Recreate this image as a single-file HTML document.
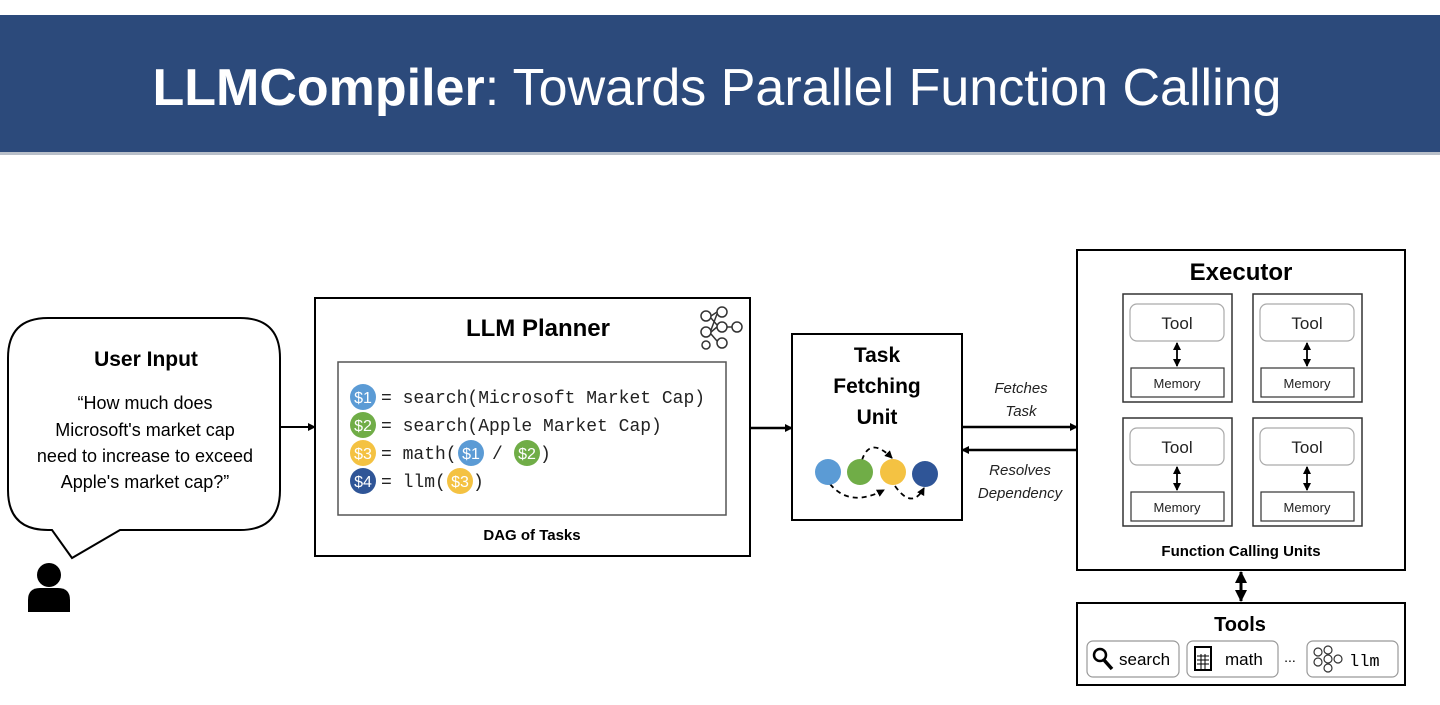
<!DOCTYPE html>
<html><head><meta charset="utf-8"><style>
html,body{margin:0;padding:0;background:#fff;}
svg{display:block}
.s{font-family:"Liberation Sans",sans-serif}
.m{font-family:"Liberation Mono","DejaVu Sans Mono",monospace}
</style></head><body>
<svg width="1440" height="705" viewBox="0 0 1440 705" xmlns="http://www.w3.org/2000/svg">
<defs>
<marker id="a" markerWidth="8" markerHeight="8" refX="7" refY="4" orient="auto" markerUnits="userSpaceOnUse"><path d="M0,0 L8,4 L0,8 z" fill="#000"/></marker>
<marker id="b" markerWidth="8" markerHeight="8" refX="7" refY="4" orient="auto-start-reverse" markerUnits="userSpaceOnUse"><path d="M0,0 L8,4 L0,8 z" fill="#000"/></marker>
<marker id="d" markerWidth="12" markerHeight="12" refX="11" refY="6" orient="auto-start-reverse" markerUnits="userSpaceOnUse"><path d="M0,0 L12,6 L0,12 z" fill="#000"/></marker>
</defs>
<rect x="0" y="15" width="1440" height="138" fill="#2c4a7b"/>
<rect x="0" y="152" width="1440" height="3" fill="#b8bfc9"/>
<text x="717" y="105" text-anchor="middle" class="s" font-size="52" fill="#fff"><tspan font-weight="bold">LLMCompiler</tspan>: Towards Parallel Function Calling</text>

<!-- bubble -->
<path d="M48,318 H240 Q280,318 280,358 V490 Q280,530 240,530 H120 L72,558 L52,530 H48 Q8,530 8,490 V358 Q8,318 48,318 Z" fill="#fff" stroke="#000" stroke-width="2"/>
<text x="146" y="366" text-anchor="middle" class="s" font-size="21" font-weight="bold">User Input</text>
<g class="s" font-size="18" text-anchor="middle">
<text x="145" y="409">“How much does</text>
<text x="145" y="436">Microsoft's market cap</text>
<text x="145" y="462">need to increase to exceed</text>
<text x="145" y="488">Apple's market cap?”</text>
</g>
<circle cx="49" cy="575" r="12"/>
<path d="M28,612 V600 Q28,588 40,588 H58 Q70,588 70,600 V612 Z"/>

<line x1="280" y1="427" x2="315" y2="427" stroke="#000" stroke-width="2" marker-end="url(#a)"/>

<!-- planner -->
<rect x="315" y="298" width="435" height="258" fill="#fff" stroke="#000" stroke-width="2"/>
<text x="538" y="336" text-anchor="middle" class="s" font-size="24" font-weight="bold">LLM Planner</text>
<g fill="none" stroke="#333" stroke-width="1.5">
<circle cx="706" cy="316" r="5"/><circle cx="722" cy="312" r="5"/><circle cx="706" cy="332" r="5"/><circle cx="722" cy="327" r="5"/><circle cx="737" cy="327" r="5"/><circle cx="722" cy="343" r="5"/><circle cx="706" cy="345" r="4"/>
<path d="M711,316 L717,312 M711,332 L717,327 M727,327 L732,327 M711,318 L717,325 M711,330 L717,314 M711,334 L717,341"/>
</g>
<rect x="338" y="362" width="388" height="153" fill="#fff" stroke="#555" stroke-width="1.5"/>
<g class="m" font-size="18" fill="#222">
<circle cx="363" cy="397" r="13" fill="#5b9bd5"/><text x="363" y="403" text-anchor="middle" fill="#fff" class="s" font-size="16">$1</text>
<text x="381" y="403">= search(Microsoft Market Cap)</text>
<circle cx="363" cy="425" r="13" fill="#70ad47"/><text x="363" y="431" text-anchor="middle" fill="#fff" class="s" font-size="16">$2</text>
<text x="381" y="431">= search(Apple Market Cap)</text>
<circle cx="363" cy="453" r="13" fill="#f4c242"/><text x="363" y="459" text-anchor="middle" fill="#fff" class="s" font-size="16">$3</text>
<text x="381" y="459">= math(</text>
<circle cx="471" cy="453" r="13" fill="#5b9bd5"/><text x="471" y="459" text-anchor="middle" fill="#fff" class="s" font-size="16">$1</text>
<text x="492" y="459">/</text>
<circle cx="527" cy="453" r="13" fill="#70ad47"/><text x="527" y="459" text-anchor="middle" fill="#fff" class="s" font-size="16">$2</text>
<text x="540" y="459">)</text>
<circle cx="363" cy="481" r="13" fill="#2f5597"/><text x="363" y="487" text-anchor="middle" fill="#fff" class="s" font-size="16">$4</text>
<text x="381" y="487">= llm(</text>
<circle cx="460" cy="481" r="13" fill="#f4c242"/><text x="460" y="487" text-anchor="middle" fill="#fff" class="s" font-size="16">$3</text>
<text x="473" y="487">)</text>
</g>
<text x="532" y="540" text-anchor="middle" class="s" font-size="15" font-weight="bold">DAG of Tasks</text>

<line x1="750" y1="428" x2="792" y2="428" stroke="#000" stroke-width="2.5" marker-end="url(#a)"/>

<!-- task fetching -->
<rect x="792" y="334" width="170" height="186" fill="#fff" stroke="#000" stroke-width="2"/>
<g class="s" font-size="21" font-weight="bold" text-anchor="middle">
<text x="877" y="362">Task</text><text x="877" y="393">Fetching</text><text x="877" y="424">Unit</text>
</g>
<g fill="none" stroke="#000" stroke-width="1.8" stroke-dasharray="5,4">
<path d="M830,484 Q850,508 884,490" marker-end="url(#b)"/>
<path d="M895,486 Q912,510 924,488" marker-end="url(#b)"/>
<path d="M862,460 Q870,436 892,458" marker-end="url(#b)"/>
</g>
<circle cx="828" cy="472" r="13" fill="#5b9bd5"/>
<circle cx="860" cy="472" r="13" fill="#70ad47"/>
<circle cx="893" cy="472" r="13" fill="#f4c242"/>
<circle cx="925" cy="474" r="13" fill="#2f5597"/>

<line x1="962" y1="427" x2="1077" y2="427" stroke="#000" stroke-width="2.5" marker-end="url(#a)"/>
<line x1="1077" y1="450" x2="962" y2="450" stroke="#000" stroke-width="2.5" marker-end="url(#a)"/>
<g class="s" font-size="15" font-style="italic" text-anchor="middle" fill="#222">
<text x="1021" y="393">Fetches</text><text x="1021" y="416">Task</text>
<text x="1020" y="475">Resolves</text><text x="1020" y="498">Dependency</text>
</g>

<!-- executor -->
<rect x="1077" y="250" width="328" height="320" fill="#fff" stroke="#000" stroke-width="2"/>
<text x="1241" y="280" text-anchor="middle" class="s" font-size="24" font-weight="bold">Executor</text>
<g id="u">
<rect x="1123" y="294" width="109" height="108" fill="#fff" stroke="#333" stroke-width="1.5"/>
<rect x="1130" y="304" width="94" height="37" rx="7" fill="#fff" stroke="#aaa" stroke-width="1.2"/>
<text x="1177" y="329" text-anchor="middle" class="s" font-size="17" fill="#222">Tool</text>
<line x1="1177" y1="343" x2="1177" y2="366" stroke="#000" stroke-width="1.8" marker-start="url(#b)" marker-end="url(#b)"/>
<rect x="1131" y="368" width="93" height="29" fill="#fff" stroke="#333" stroke-width="1.2"/>
<text x="1177" y="388" text-anchor="middle" class="s" font-size="13" fill="#222">Memory</text>
</g>
<use href="#u" x="130"/>
<use href="#u" y="124"/>
<use href="#u" x="130" y="124"/>
<text x="1241" y="556" text-anchor="middle" class="s" font-size="15" font-weight="bold">Function Calling Units</text>

<line x1="1241" y1="572" x2="1241" y2="601" stroke="#000" stroke-width="3" marker-start="url(#d)" marker-end="url(#d)"/>

<!-- tools -->
<rect x="1077" y="603" width="328" height="82" fill="#fff" stroke="#000" stroke-width="2"/>
<text x="1240" y="631" text-anchor="middle" class="s" font-size="20" font-weight="bold">Tools</text>
<rect x="1087" y="641" width="92" height="36" rx="6" fill="#fff" stroke="#999" stroke-width="1.2"/>
<circle cx="1100" cy="655" r="6" fill="none" stroke="#000" stroke-width="2.5"/>
<line x1="1104" y1="660" x2="1112" y2="669" stroke="#000" stroke-width="3.5"/>
<text x="1119" y="665" class="s" font-size="17">search</text>
<rect x="1187" y="641" width="91" height="36" rx="6" fill="#fff" stroke="#999" stroke-width="1.2"/>
<rect x="1195" y="647" width="16" height="23" fill="none" stroke="#000" stroke-width="2"/>
<path d="M1197,656 H1209 M1197,660 H1209 M1197,664 H1209 M1201,654 V669 M1205,654 V669" stroke="#000" stroke-width="1"/>
<text x="1225" y="665" class="s" font-size="17">math</text>
<text x="1290" y="662" text-anchor="middle" class="s" font-size="14">...</text>
<rect x="1307" y="641" width="91" height="36" rx="6" fill="#fff" stroke="#999" stroke-width="1.2"/>
<g fill="none" stroke="#333" stroke-width="1.2">
<circle cx="1318" cy="652" r="4"/><circle cx="1328" cy="650" r="4"/><circle cx="1318" cy="662" r="4"/><circle cx="1328" cy="659" r="4"/><circle cx="1338" cy="659" r="4"/><circle cx="1328" cy="668" r="4"/>
</g>
<text x="1349" y="666" class="m" font-size="17">llm</text>
</svg>
</body></html>
